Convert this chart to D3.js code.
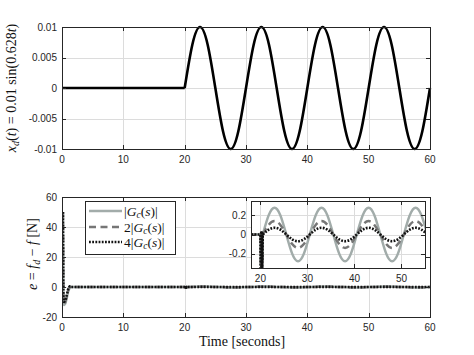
<!DOCTYPE html>
<html><head><meta charset="utf-8">
<script src="https://cdn.jsdelivr.net/npm/d3@7/dist/d3.min.js"></script>
<style>body{margin:0;background:#fff}svg{display:block}</style>
</head><body>
<script>
// ---------- DATA ----------
// top panel: desired displacement x_d(t)
const xdFlatTime = [0, 20];
const xdFlatValue = [0, 0];
const xdSineTime = d3.range(20, 60.001, 1.25);
const xdSineValue = [0, 0.0071, 0.01, 0.0071, 0, -0.0071, -0.01, -0.0071,
                     0, 0.0071, 0.01, 0.0071, 0, -0.0071, -0.01, -0.0071,
                     0, 0.0071, 0.01, 0.0071, 0, -0.0071, -0.01, -0.0071,
                     0, 0.0071, 0.01, 0.0071, 0, -0.0071, -0.01, -0.0071, 0];

// bottom panel: force error e for three gains
const seriesNames = ["|G_c(s)|", "2|G_c(s)|", "4|G_c(s)|"];
const startTime = [0.15, 0.22, 0.35, 0.55, 0.8, 1.0, 1.25, 1.5, 20];
const startG1 = [50, -4, -12, -11, -7, -3, -0.5, 0, 0];
const startG2 = [50, -5, -11, -10, -6, -2, 0, 0, 0];
const startG4 = [50, -6, -10, -9, -5, -1.5, 0.5, 0, 0];
const spikeTime = [20, 20.08, 20.16, 20.24, 20.32, 20.4, 20.5];
const spikeG1 = [0, -0.3, -0.05, -0.4, -0.1, -0.25, 0];
const spikeG2 = [0, -0.4, 0, -0.45, -0.05, -0.3, 0];
const spikeG4 = [0, -0.5, 0.02, -0.5, 0.02, -0.4, 0];
const steadyTime = d3.range(20.5, 60.501, 1.25);
const steadyG1 = [0, 0.2, 0.28, 0.2, 0, -0.2, -0.28, -0.2,
                  0, 0.2, 0.28, 0.2, 0, -0.2, -0.28, -0.2,
                  0, 0.2, 0.28, 0.2, 0, -0.2, -0.28, -0.2,
                  0, 0.2, 0.28, 0.2, 0, -0.2, -0.28, -0.2, 0];
const steadyG2 = [0, 0.1, 0.14, 0.1, 0, -0.1, -0.14, -0.1,
                  0, 0.1, 0.14, 0.1, 0, -0.1, -0.14, -0.1,
                  0, 0.1, 0.14, 0.1, 0, -0.1, -0.14, -0.1,
                  0, 0.1, 0.14, 0.1, 0, -0.1, -0.14, -0.1, 0];
const steadyG4 = [0, 0.05, 0.07, 0.05, 0, -0.05, -0.07, -0.05,
                  0, 0.05, 0.07, 0.05, 0, -0.05, -0.07, -0.05,
                  0, 0.05, 0.07, 0.05, 0, -0.05, -0.07, -0.05,
                  0, 0.05, 0.07, 0.05, 0, -0.05, -0.07, -0.05, 0];

// ticks
const xTicks = [0, 10, 20, 30, 40, 50, 60];
const topYTicks = [-0.01, -0.005, 0, 0.005, 0.01];
const topYTickLabels = ["-0.01", "-0.005", "0", "0.005", "0.01"];
const botYTicks = [-20, 0, 20, 40, 60];
const insetXTicks = [20, 30, 40, 50];
const insetYTicks = [-0.2, 0, 0.2];
const insetYTickLabels = ["-0.2", "0", "0.2"];

// ---------- DRAW ----------
const W = 474, H = 355;
const svg = d3.select("body").append("svg").attr("width", W).attr("height", H);
const AX = "#262626", GRID = "#dcdcdc";
const tickFont = "Liberation Sans, Arial, sans-serif";
const serif = "Liberation Serif, Times New Roman, serif";

const styles = [
  {stroke: "#a2acaa", width: 2.5, dash: null},
  {stroke: "#767676", width: 2.5, dash: "7,4.5"},
  {stroke: "#111111", width: 2.6, dash: "1.8,1.4"}
];

function zip(a, b) { return a.map((v, i) => [v, b[i]]); }

function makeAxes(g, x, y, xt, yt) {
  const [x0, x1] = x.range(), [y1, y0] = y.range();
  g.append("g").selectAll("line").data(xt).join("line")
    .attr("x1", d => Math.round(x(d)) + 0.5).attr("x2", d => Math.round(x(d)) + 0.5)
    .attr("y1", y0).attr("y2", y1).attr("stroke", GRID).attr("stroke-width", 1);
  g.append("g").selectAll("line").data(yt).join("line")
    .attr("y1", d => Math.round(y(d)) + 0.5).attr("y2", d => Math.round(y(d)) + 0.5)
    .attr("x1", x0).attr("x2", x1).attr("stroke", GRID).attr("stroke-width", 1);
}

function makeFrame(g, x, y, xt, yt, ytl, fs) {
  const [x0, x1] = x.range(), [y1, y0] = y.range();
  const tl = 4;
  const fr = g.append("g").attr("shape-rendering", "crispEdges");
  fr.append("rect").attr("x", x0 + 0.5).attr("y", y0 + 0.5)
    .attr("width", x1 - x0).attr("height", y1 - y0)
    .attr("fill", "none").attr("stroke", AX).attr("stroke-width", 1);
  xt.forEach(d => {
    const px = Math.round(x(d)) + 0.5;
    fr.append("line").attr("x1", px).attr("x2", px).attr("y1", y1).attr("y2", y1 - tl).attr("stroke", AX);
    fr.append("line").attr("x1", px).attr("x2", px).attr("y1", y0).attr("y2", y0 + tl).attr("stroke", AX);
  });
  yt.forEach(d => {
    const py = Math.round(y(d)) + 0.5;
    fr.append("line").attr("y1", py).attr("y2", py).attr("x1", x0).attr("x2", x0 + tl).attr("stroke", AX);
    fr.append("line").attr("y1", py).attr("y2", py).attr("x1", x1).attr("x2", x1 - tl).attr("stroke", AX);
  });
  g.append("g").selectAll("text").data(xt).join("text")
    .attr("x", d => x(d)).attr("y", y1 + 14).attr("text-anchor", "middle")
    .attr("font-family", tickFont).attr("font-size", fs).attr("fill", AX).text(d => d);
  g.append("g").selectAll("text").data(yt).join("text")
    .attr("x", x0 - 5).attr("y", d => y(d) + 3.5).attr("text-anchor", "end")
    .attr("font-family", tickFont).attr("font-size", fs).attr("fill", AX)
    .text((d, i) => ytl ? ytl[i] : d);
}

// ----- top panel -----
const xTop = d3.scaleLinear().domain([0, 60]).range([62, 430]);
const yTop = d3.scaleLinear().domain([-0.01, 0.01]).range([149, 27]);
const gTop = svg.append("g");
makeAxes(gTop, xTop, yTop, xTicks, topYTicks);
const lineTopLin = d3.line().x(d => xTop(d[0])).y(d => yTop(d[1]));
const lineTopNat = d3.line().x(d => xTop(d[0])).y(d => yTop(d[1])).curve(d3.curveNatural);
gTop.append("path").attr("d", lineTopLin(zip(xdFlatTime, xdFlatValue)) + lineTopNat(zip(xdSineTime, xdSineValue)))
  .attr("fill", "none").attr("stroke", "#000").attr("stroke-width", 2.6).attr("stroke-linejoin", "round");
makeFrame(gTop, xTop, yTop, xTicks, topYTicks, topYTickLabels, 10);

// top y label
const tl1 = svg.append("text").attr("transform", "translate(16,88) rotate(-90)")
  .attr("text-anchor", "middle").attr("font-family", serif).attr("font-size", 14).attr("fill", "#111");
tl1.append("tspan").attr("font-style", "italic").text("x");
tl1.append("tspan").attr("font-style", "italic").attr("font-size", 10).attr("dy", 3).text("d");
tl1.append("tspan").attr("dy", -3).text("(");
tl1.append("tspan").attr("font-style", "italic").text("t");
tl1.append("tspan").text(") = 0.01 sin(0.628");
tl1.append("tspan").attr("font-style", "italic").text("t");
tl1.append("tspan").text(")");

// ----- bottom panel -----
const xBot = d3.scaleLinear().domain([0, 60]).range([62, 430]);
const yBot = d3.scaleLinear().domain([-20, 60]).range([317, 197]);
const gBot = svg.append("g");
makeAxes(gBot, xBot, yBot, xTicks, botYTicks);
svg.append("clipPath").attr("id", "clipBot").append("rect").attr("x", 62).attr("y", 197).attr("width", 368).attr("height", 120);

const starts = [startG1, startG2, startG4];
const spikes = [spikeG1, spikeG2, spikeG4];
const steadies = [steadyG1, steadyG2, steadyG4];

function drawSeries(g, x, y, clipId) {
  const lin = d3.line().x(d => x(d[0])).y(d => y(d[1]));
  const nat = d3.line().x(d => x(d[0])).y(d => y(d[1])).curve(d3.curveNatural);
  const cg = g.append("g").attr("clip-path", `url(#${clipId})`);
  [0, 1, 2].forEach(i => {
    const st = styles[i];
    const pts = zip(startTime, starts[i]).concat(zip(spikeTime, spikes[i]).slice(1));
    cg.append("path").attr("d", lin(pts) + nat(zip(steadyTime, steadies[i])))
      .attr("fill", "none").attr("stroke", st.stroke).attr("stroke-width", st.width)
      .attr("stroke-dasharray", st.dash).attr("stroke-linejoin", "round");
  });
}
drawSeries(gBot, xBot, yBot, "clipBot");
makeFrame(gBot, xBot, yBot, xTicks, botYTicks, null, 10);

// bottom y label
const tl2 = svg.append("text").attr("transform", "translate(37,254) rotate(-90)")
  .attr("text-anchor", "middle").attr("font-family", serif).attr("font-size", 14).attr("fill", "#111");
tl2.append("tspan").attr("font-style", "italic").text("e");
tl2.append("tspan").text(" = ");
tl2.append("tspan").attr("font-style", "italic").text("f");
tl2.append("tspan").attr("font-style", "italic").attr("font-size", 10).attr("dy", 3).text("d");
tl2.append("tspan").attr("dy", -3).text(" \u2212 ");
tl2.append("tspan").attr("font-style", "italic").text("f");
tl2.append("tspan").text(" [N]");

// x label
svg.append("text").attr("x", 242).attr("y", 346).attr("text-anchor", "middle")
  .attr("font-family", serif).attr("font-size", 14).attr("fill", "#111").text("Time [seconds]");

// legend
const lg = svg.append("g");
lg.append("rect").attr("x", 85.5).attr("y", 201.5).attr("width", 90).attr("height", 53)
  .attr("fill", "#fff").attr("stroke", AX).attr("stroke-width", 1);
const rowY = [211, 227, 242];
seriesNames.forEach((name, i) => {
  const st = styles[i];
  lg.append("line").attr("x1", 89).attr("x2", 122).attr("y1", rowY[i]).attr("y2", rowY[i])
    .attr("stroke", st.stroke).attr("stroke-width", st.width).attr("stroke-dasharray", st.dash);
  const t = lg.append("text").attr("x", 124).attr("y", rowY[i] + 4.5)
    .attr("font-family", serif).attr("font-size", 13.5).attr("fill", "#111");
  const pre = name.split("|")[0];
  t.append("tspan").text(pre + "|");
  t.append("tspan").attr("font-style", "italic").text("G");
  t.append("tspan").attr("font-style", "italic").attr("font-size", 9.5).attr("dy", 2).text("c");
  t.append("tspan").attr("dy", -2).text("(");
  t.append("tspan").attr("font-style", "italic").text("s");
  t.append("tspan").text(")|");
});

// ----- inset -----
const xIn = d3.scaleLinear().domain([18, 55]).range([251, 425]);
const yIn = d3.scaleLinear().domain([-0.35, 0.35]).range([268, 201]);
const gIn = svg.append("g");
gIn.append("rect").attr("x", 251).attr("y", 201).attr("width", 174).attr("height", 67).attr("fill", "#fff");
makeAxes(gIn, xIn, yIn, insetXTicks, insetYTicks);
svg.append("clipPath").attr("id", "clipIn").append("rect").attr("x", 251).attr("y", 201).attr("width", 174).attr("height", 67);
drawSeries(gIn, xIn, yIn, "clipIn");
makeFrame(gIn, xIn, yIn, insetXTicks, insetYTicks, insetYTickLabels, 10);
</script>
</body></html>
